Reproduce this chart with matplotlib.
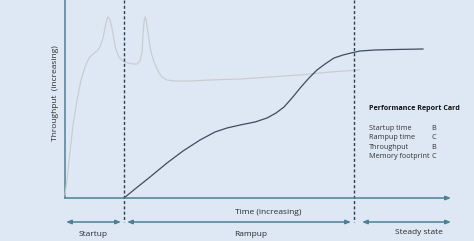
import matplotlib
matplotlib.use("Agg")
import matplotlib.pyplot as plt

# Gray curve (pixel coords of the diagram)
gray_x = [65, 67, 70, 73, 77, 81, 85, 89, 93, 97, 100, 103, 105, 107, 108, 110, 112, 114, 116,
          119, 123, 128, 133, 137, 140, 142, 143, 144, 145, 146, 147, 149, 151, 154, 158, 162,
          167, 175, 190, 210, 240, 270, 300, 330, 359]
gray_y = [195, 180, 152, 125, 100, 80, 67, 58, 54, 51, 47, 38, 28, 19, 17, 20, 28, 40, 50,
          57, 61, 63, 64, 64, 61, 52, 35, 22, 17, 19, 26, 40, 52, 62, 71, 77,
          80, 81, 81, 80, 79, 77, 75, 72, 70]

# Dark curve
dark_x = [124, 135, 150, 167, 183, 200, 215, 227, 240, 255, 267, 276, 284, 292, 301, 309, 317,
          325, 334, 343, 351, 360, 375, 395, 423]
dark_y = [198, 189, 177, 163, 151, 140, 132, 128, 125, 122, 118, 113, 107, 98, 87, 78, 70,
          64, 58, 55, 53, 51, 50, 49.5, 49]

phases = ["Startup", "Rampup", "Steady state"]
grades_names = ["Startup time", "Rampup time", "Throughput", "Memory footprint"]
grades = ["B", "C", "B", "C"]

BG = "#dde8f4"
AX = "#4f7f95"
W, H = 474, 241

fig = plt.figure(figsize=(W / 100, H / 100), dpi=100, facecolor=BG)
ax = fig.add_axes([0, 0, 1, 1])
ax.set_facecolor(BG)
ax.set_xlim(0, W)
ax.set_ylim(H, 0)
ax.axis("off")

FONT = "Open Sans"
TC = "#2b2b2b"

# axes
ax.plot([65, 65], [0, 198], color=AX, lw=1.1)
ax.annotate("", xy=(451, 198), xytext=(65, 198),
            arrowprops=dict(arrowstyle="-|>,head_length=0.3,head_width=0.12", color=AX, lw=1.1,
                            shrinkA=0, shrinkB=0))

# curves
ax.plot(gray_x, gray_y, color="#c8cccf", lw=0.85, solid_joinstyle="round")
ax.plot(dark_x, dark_y, color="#3e4c5c", lw=0.9, solid_joinstyle="round")

# dashed phase separators
for xv in (124, 354):
    ax.plot([xv, xv], [0, 222], color="#2f3e4e", lw=1.0, ls=(0, (2.2, 1.6)))

# phase arrows
def darrow(x0, x1, y):
    ax.annotate("", xy=(x1, y), xytext=(x0, y),
                arrowprops=dict(arrowstyle="<|-|>,head_length=0.3,head_width=0.12", color=AX,
                                lw=1.1, shrinkA=0, shrinkB=0))

darrow(66, 121, 222)
darrow(127, 351, 222)
darrow(362, 451, 222)

ax.text(268, 212, "Time (increasing)", ha="center", va="center", fontsize=6.0, color=TC, family=FONT)
ax.text(56, 93, "Throughput  (increasing)", ha="center", va="center", rotation=90,
        fontsize=6.0, color=TC, family=FONT)
ax.text(93, 235, phases[0], ha="center", va="center", fontsize=6.0, color=TC, family=FONT)
ax.text(251, 234, phases[1], ha="center", va="center", fontsize=6.0, color=TC, family=FONT)
ax.text(419, 232, phases[2], ha="center", va="center", fontsize=6.0, color=TC, family=FONT)

ax.text(369, 109, "Performance Report Card", ha="left", va="center", fontsize=5.1,
        fontweight="bold", color="#111111", family=FONT)
for i, (n, g) in enumerate(zip(grades_names, grades)):
    y = 128 + i * 9.6
    ax.text(369, y, n, ha="left", va="center", fontsize=5.2, color="#333333", family=FONT)
    ax.text(434, y, g, ha="center", va="center", fontsize=5.2, color="#333333", family=FONT)

fig.savefig("out.png", dpi=100, facecolor=BG)
